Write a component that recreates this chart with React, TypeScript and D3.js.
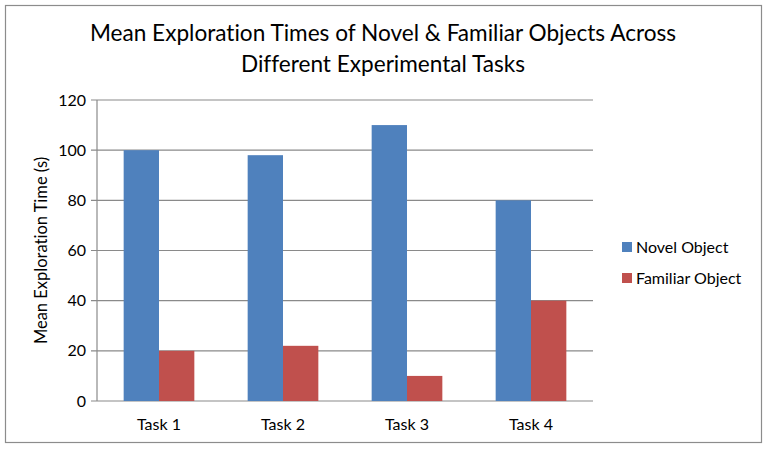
import React, { useEffect, useRef } from "react";
import * as d3 from "d3";

const tasks = ["Task 1", "Task 2", "Task 3", "Task 4"];
const novelTimes = [100, 98, 110, 80];
const familiarTimes = [20, 22, 10, 40];
const seriesNames = ["Novel Object", "Familiar Object"];
const yTicks = [0, 20, 40, 60, 80, 100, 120];

const COLORS = ["#4F81BD", "#C0504D"];
const FONT = "Lato, 'Open Sans', sans-serif";

export default function App() {
    const ref = useRef<SVGSVGElement | null>(null);

    useEffect(() => {
        const width = 768;
        const height = 450;
        const margin = { left: 97, right: 175, top: 100, bottom: 49 };

        const svg = d3.select(ref.current);
        svg.selectAll("*").remove();
        svg.attr("width", width)
            .attr("height", height)
            .style("font-variant-ligatures", "none")
            .style("font-feature-settings", "'liga' 0");

        svg.append("rect")
            .attr("width", width)
            .attr("height", height)
            .attr("fill", "#fff");

        // outer chart border
        svg.append("rect")
            .attr("x", 5.5)
            .attr("y", 5.5)
            .attr("width", 756)
            .attr("height", 437)
            .attr("fill", "none")
            .attr("stroke", "#8c8c8c")
            .attr("stroke-width", 1.2);

        const x0 = d3
            .scaleBand<string>()
            .domain(tasks)
            .range([margin.left, width - margin.right])
            .paddingInner(0.43)
            .paddingOuter(0.215);

        const x1 = d3
            .scaleBand<string>()
            .domain(seriesNames)
            .range([0, x0.bandwidth()]);

        const y = d3
            .scaleLinear()
            .domain([0, 120])
            .range([height - margin.bottom, margin.top]);

        const plotRight = width - margin.right;

        // gridlines
        svg.append("g")
            .selectAll("line")
            .data(yTicks)
            .join("line")
            .attr("x1", margin.left - 6)
            .attr("x2", plotRight)
            .attr("y1", (d) => y(d))
            .attr("y2", (d) => y(d))
            .attr("stroke", "#8a8a8a")
            .attr("stroke-width", 1.2);

        // y axis line
        svg.append("line")
            .attr("x1", margin.left)
            .attr("x2", margin.left)
            .attr("y1", y(0))
            .attr("y2", y(120))
            .attr("stroke", "#8a8a8a")
            .attr("stroke-width", 1.2);

        // y tick labels
        svg.append("g")
            .selectAll("text")
            .data(yTicks)
            .join("text")
            .attr("x", margin.left - 11)
            .attr("y", (d) => y(d))
            .attr("dy", "0.35em")
            .attr("text-anchor", "end")
            .attr("font-family", FONT)
            .attr("font-size", 16)
            .attr("fill", "#000")
            .text((d) => d);

        const rows = tasks.map((t, i) => ({
            task: t,
            values: [novelTimes[i], familiarTimes[i]],
        }));

        const groups = svg
            .append("g")
            .selectAll("g")
            .data(rows)
            .join("g")
            .attr("transform", (d) => `translate(${x0(d.task)},0)`);

        groups
            .selectAll("rect")
            .data((d) => d.values.map((v, i) => ({ key: seriesNames[i], value: v, i })))
            .join("rect")
            .attr("x", (d) => x1(d.key) as number)
            .attr("width", x1.bandwidth())
            .attr("y", (d) => y(d.value))
            .attr("height", (d) => y(0) - y(d.value))
            .attr("fill", (d) => COLORS[d.i]);

        // x tick labels
        svg.append("g")
            .selectAll("text")
            .data(tasks)
            .join("text")
            .attr("x", (d) => (x0(d) as number) + x0.bandwidth() / 2)
            .attr("y", 430)
            .attr("text-anchor", "middle")
            .attr("font-family", FONT)
            .attr("font-size", 16)
            .attr("fill", "#000")
            .text((d) => d);

        // y axis title
        svg.append("text")
            .attr("transform", `translate(47,${(y(0) + y(120)) / 2}) rotate(-90)`)
            .attr("text-anchor", "middle")
            .attr("font-family", FONT)
            .attr("font-size", 16.5)
            .attr("fill", "#000")
            .text("Mean Exploration Time (s)");

        // title
        const title = svg
            .append("text")
            .attr("text-anchor", "middle")
            .attr("font-family", FONT)
            .attr("font-size", 22.6)
            .attr("fill", "#000");
        title.append("tspan").attr("x", 383).attr("y", 41).text("Mean Exploration Times of Novel & Familiar Objects Across");
        title.append("tspan").attr("x", 383).attr("y", 72).text("Different Experimental Tasks");

        // legend
        const legend = svg
            .append("g")
            .selectAll("g")
            .data(seriesNames)
            .join("g")
            .attr("transform", (_, i) => `translate(622,${242 + i * 31})`);

        legend
            .append("rect")
            .attr("width", 10)
            .attr("height", 10)
            .attr("fill", (_, i) => COLORS[i]);

        legend
            .append("text")
            .attr("x", 14)
            .attr("y", 5)
            .attr("dy", "0.35em")
            .attr("font-family", FONT)
            .attr("font-size", 16)
            .attr("fill", "#000")
            .text((d) => d);
    }, []);

    return (
        <div style={{ position: "absolute", left: 0, top: 0 }}>
            <svg ref={ref} style={{ display: "block" }}></svg>
        </div>
    );
}
